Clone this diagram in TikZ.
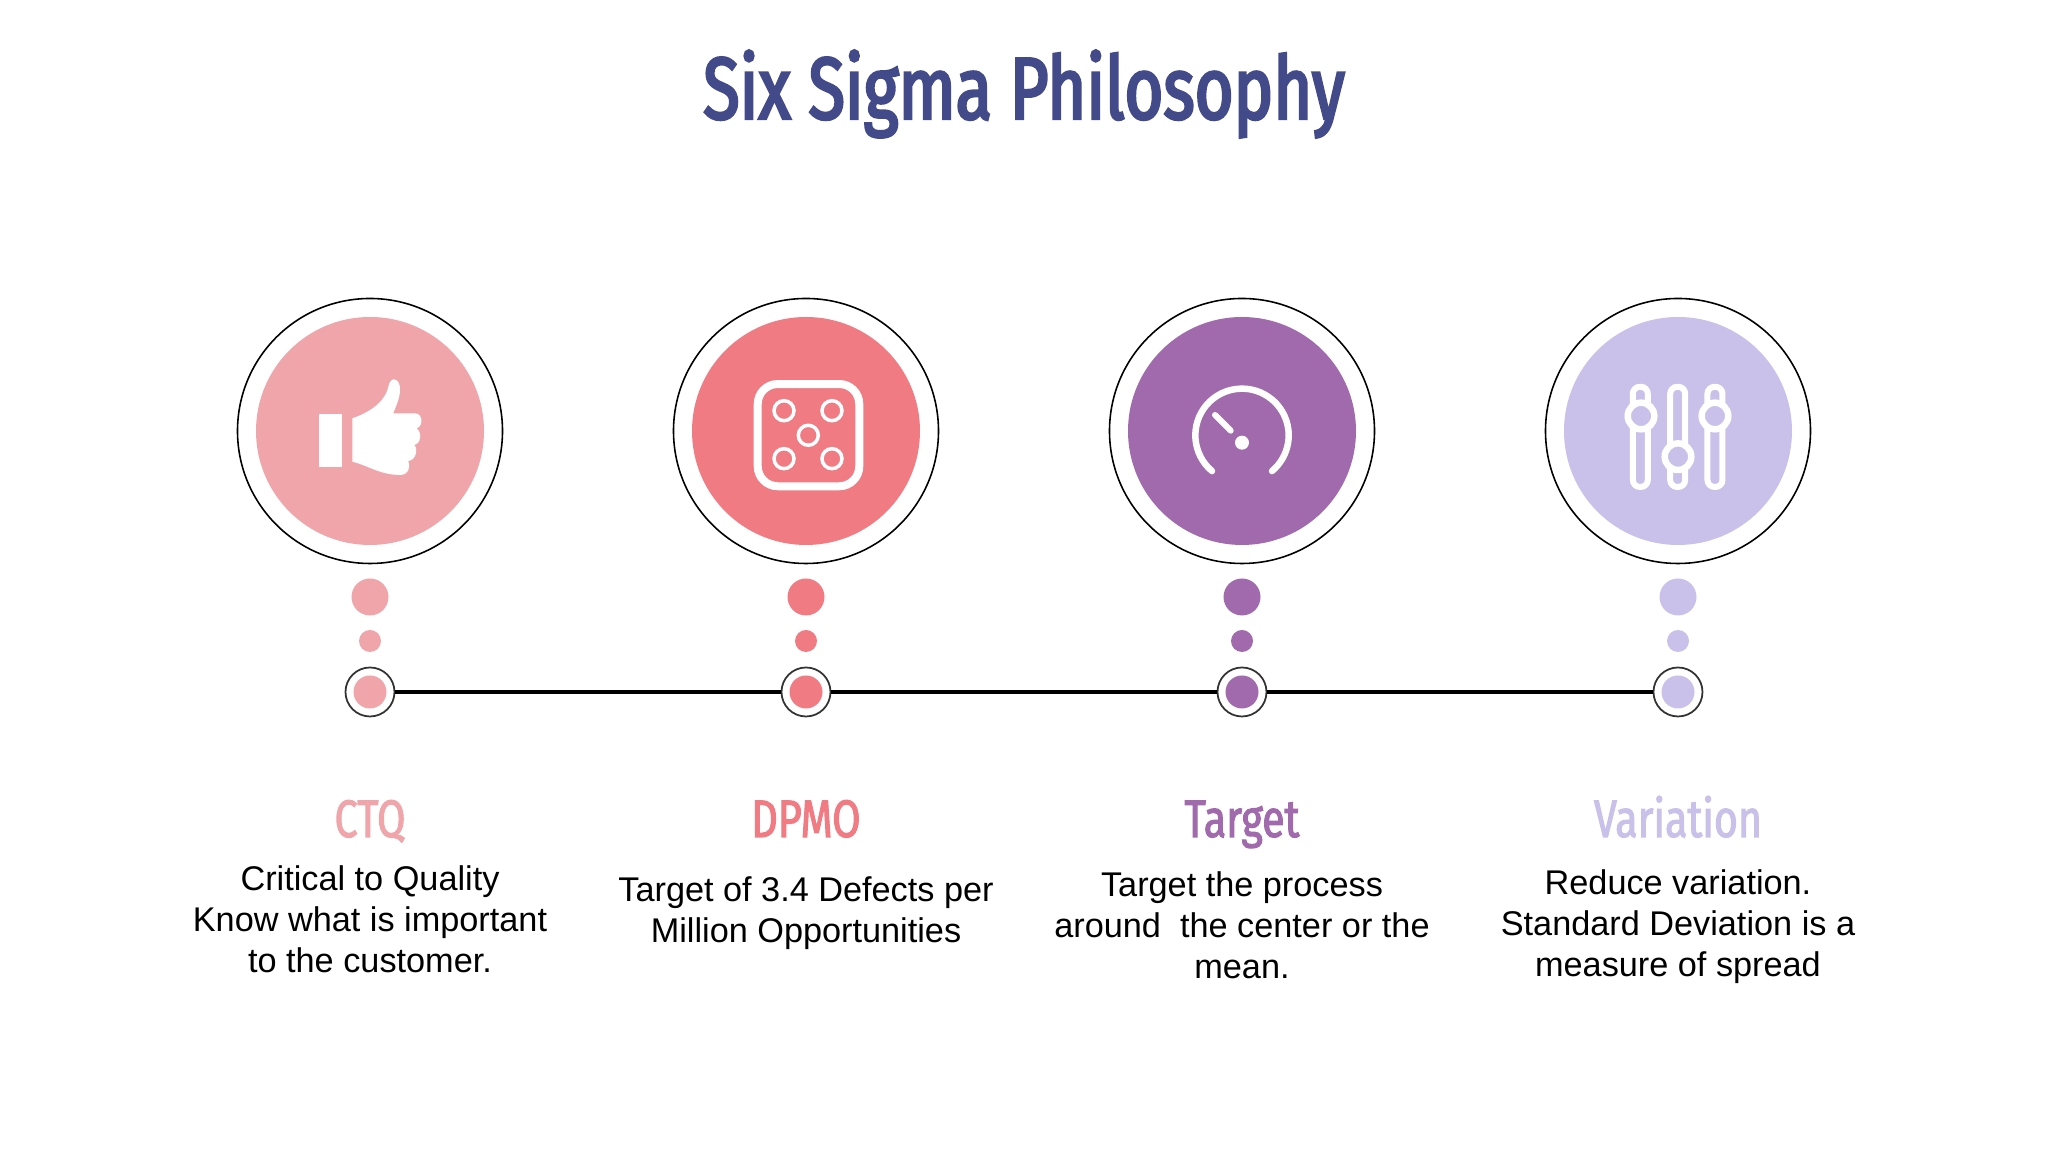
\documentclass[tikz,border=0pt]{standalone}
\usepackage{fontspec}
\setmainfont{Liberation Sans}
\newfontfamily\titlefont[FakeStretch=0.76,FakeBold=3]{Fira Sans}
\newfontfamily\headfont[FakeStretch=0.78,FakeBold=2]{Fira Sans}
\definecolor{sigmablue}{HTML}{434A8A}
\definecolor{ctqpink}{HTML}{EFA5A9}
\definecolor{dpmored}{HTML}{F17B82}
\definecolor{targetpurple}{HTML}{A06AAC}
\definecolor{variationlilac}{HTML}{C9C1E9}
\tikzset{
  bigring/.style = {circle, draw=black, line width=.45pt, fill=white, inner sep=0, minimum size=2.65cm},
  bigdisc/.style = {circle, inner sep=0, minimum size=2.28cm},
  middot/.style = {circle, inner sep=0, minimum size=.37cm},
  smalldot/.style = {circle, inner sep=0, minimum size=.22cm},
  stopring/.style = {circle, draw=black!80, line width=.5pt, fill=white, inner sep=0, minimum size=.49cm},
  stopdot/.style = {circle, inner sep=0, minimum size=.33cm},
  headtext/.style = {anchor=base, font=\headfont\fontsize{15}{18}\selectfont},
  bodytext/.style = {align=center, font=\fontsize{9.75}{11.7}\selectfont},
  iconline/.style = {draw=white, line width=.6mm, line cap=round},
  pixelgrid/.style = {x=.01cm, y=-.01cm}
}
\begin{document}
\begin{tikzpicture}
  \useasboundingbox (0,0) rectangle (20.48,11.52);
  \node [font=\titlefont\fontsize{25}{30}\selectfont, text=sigmablue] (title) at (10.24,10.58) {Six Sigma Philosophy};

  % big circles
  \node [bigring] (ringctq) at (3.70,7.21) {};
  \node [bigring] (ringdpmo) at (8.06,7.21) {};
  \node [bigring] (ringtarget) at (12.42,7.21) {};
  \node [bigring] (ringvar) at (16.78,7.21) {};
  \node [bigdisc, fill=ctqpink] (discctq) at (ringctq) {};
  \node [bigdisc, fill=dpmored] (discdpmo) at (ringdpmo) {};
  \node [bigdisc, fill=targetpurple] (disctarget) at (ringtarget) {};
  \node [bigdisc, fill=variationlilac] (discvar) at (ringvar) {};

  % thumb
  \begin{scope}[shift={(discctq)}, pixelgrid]
    \fill [white] (-51,-17) rectangle (-28.3,36);
    \fill [white] (-17.7,-12.7) .. controls (6.7,-21) and (16.7,-34.3) .. (18.3,-44.3)
      .. controls (19.3,-49.3) and (21.7,-51.7) .. (24,-51.7)
      .. controls (28.3,-51.7) and (30.7,-46) .. (30,-39.3)
      .. controls (29.3,-31) and (25,-22.7) .. (23.3,-17.7)
      -- (45,-17.7)
      .. controls (53.3,-17.7) and (53.3,-4.3) .. (46.7,-2.7)
      .. controls (51.7,.7) and (51.7,12.3) .. (44.3,14)
      .. controls (48,17.3) and (46.7,29) .. (38.3,30)
      .. controls (40.7,37.3) and (38.3,44) .. (30,44)
      .. controls (10,44) and (-3.3,34) .. (-17.7,30.7) -- cycle;
  \end{scope}

  % dice
  \begin{scope}[shift={(discdpmo)}, pixelgrid]
    \draw [white, line width=.8mm, rounded corners=2mm] (-48.3,-47) rectangle (53.3,55.3);
    \draw [white, line width=.35mm] (-22,-20.3) circle [radius=10];
    \draw [white, line width=.35mm] (26,-20.3) circle [radius=10];
    \draw [white, line width=.35mm] (2.3,4.3) circle [radius=10];
    \draw [white, line width=.35mm] (-22,27.7) circle [radius=10];
    \draw [white, line width=.35mm] (26,27.7) circle [radius=10];
  \end{scope}

  % gauge
  \begin{scope}[shift={(disctarget)}, pixelgrid]
    \draw [iconline, line width=.65mm] (-30,40.1) arc [start angle=130, end angle=410, radius=46.7];
    \draw [iconline] (-27,-16) -- (-11.3,-.3);
    \fill [white] (0,11.7) circle [radius=7];
  \end{scope}

  % sliders
  \begin{scope}[shift={(discvar)}, pixelgrid]
    \draw [white, line width=.6mm, rounded corners=.7mm] (-45.2,-44.2) rectangle (-30.2,56);
    \draw [white, line width=.6mm, rounded corners=.7mm] (-7.8,-44.2) rectangle (7.2,56);
    \draw [white, line width=.6mm, rounded corners=.7mm] (29.5,-44.2) rectangle (44.5,56);
    \draw [white, line width=.65mm, fill=variationlilac] (-37,-15) circle [radius=13.3];
    \draw [white, line width=.65mm, fill=variationlilac] (0,25.7) circle [radius=13.3];
    \draw [white, line width=.65mm, fill=variationlilac] (37,-15) circle [radius=13.3];
  \end{scope}

  % two dots under each circle
  \node [middot, fill=ctqpink] (midctq) at (3.70,5.55) {};
  \node [middot, fill=dpmored] (middpmo) at (8.06,5.55) {};
  \node [middot, fill=targetpurple] (midtarget) at (12.42,5.55) {};
  \node [middot, fill=variationlilac] (midvar) at (16.78,5.55) {};
  \node [smalldot, fill=ctqpink] (lowctq) at (3.70,5.11) {};
  \node [smalldot, fill=dpmored] (lowdpmo) at (8.06,5.11) {};
  \node [smalldot, fill=targetpurple] (lowtarget) at (12.42,5.11) {};
  \node [smalldot, fill=variationlilac] (lowvar) at (16.78,5.11) {};

  % time line
  \node [stopring] (stopctq) at (3.70,4.60) {};
  \node [stopring] (stopdpmo) at (8.06,4.60) {};
  \node [stopring] (stoptarget) at (12.42,4.60) {};
  \node [stopring] (stopvar) at (16.78,4.60) {};
  \draw [line width=1.25pt] (stopctq) -- (stopdpmo);
  \draw [line width=1.25pt] (stopdpmo) -- (stoptarget);
  \draw [line width=1.25pt] (stoptarget) -- (stopvar);
  \node [stopdot, fill=ctqpink] (dotctq) at (stopctq) {};
  \node [stopdot, fill=dpmored] (dotdpmo) at (stopdpmo) {};
  \node [stopdot, fill=targetpurple] (dottarget) at (stoptarget) {};
  \node [stopdot, fill=variationlilac] (dotvar) at (stopvar) {};

  % texts
  \node [headtext, text=ctqpink] (headctq) at (3.70,3.15) {CTQ};
  \node [headtext, text=dpmored] (headdpmo) at (8.06,3.15) {DPMO};
  \node [headtext, text=targetpurple] (headtarget) at (12.42,3.15) {Target};
  \node [headtext, text=variationlilac] (headvar) at (16.78,3.15) {Variation};
  \node [bodytext] (textctq) at (3.70,2.33) {Critical to Quality\\Know what is important\\to the customer.};
  \node [bodytext] (textdpmo) at (8.06,2.39) {Target of 3.4 Defects per\\Million Opportunities};
  \node [bodytext] (texttarget) at (12.42,2.27) {Target the process\\around\ \ the center or the\\mean.};
  \node [bodytext] (textvar) at (16.78,2.25) {Reduce variation.\\Standard Deviation is a\\measure of spread};
\end{tikzpicture}
\end{document}
